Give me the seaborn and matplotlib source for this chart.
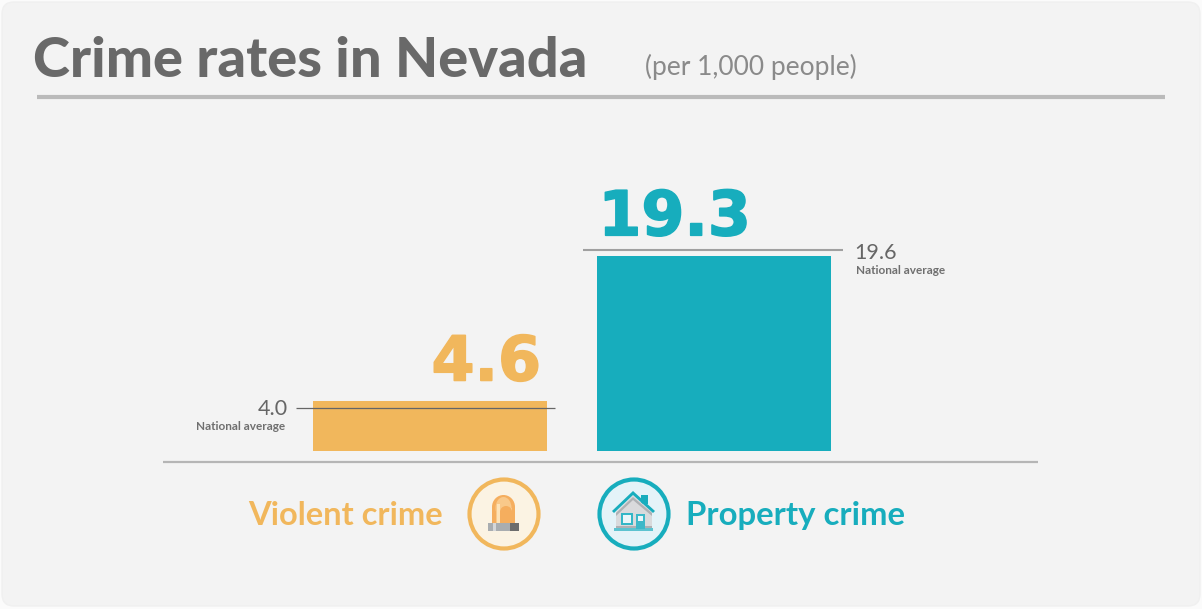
import matplotlib
matplotlib.use("Agg")
import matplotlib.pyplot as plt
import matplotlib.patheffects as pe
from matplotlib.patches import Circle, FancyBboxPatch, Polygon, Rectangle, Ellipse
import seaborn as sns
import pandas as pd

# Data
categories = ["Violent crime", "Property crime"]
printed_values = ["4.6", "19.3"]
printed_averages = ["4.0", "19.6"]
# Heights as measured in the picture: this infographic's marks are not exactly to scale
drawn_heights = [4.95, 19.3]
drawn_averages = [4.25, 19.9]
title = "Crime rates in Nevada"
subtitle = "(per 1,000 people)"
average_label = "National average"

ORANGE = "#f1b75c"
TEAL = "#17adbd"
DARK = "#696969"
W, H = 1202, 609

sns.set_theme(style="white")
plt.rcParams["font.family"] = ["Lato", "DejaVu Sans"]

fig = plt.figure(figsize=(W / 100, H / 100), dpi=100, facecolor="#fbfbfb")

# Overlay in pixel coordinates for the card furniture
bg = fig.add_axes([0, 0, 1, 1], zorder=0)
bg.set_xlim(0, W)
bg.set_ylim(H, 0)
bg.axis("off")
bg.add_patch(FancyBboxPatch((2, 2), W - 4, H - 5, boxstyle="round,pad=0,rounding_size=12",
                            fc="#f3f3f3", ec="#f0f0f0", lw=1))
bg.text(33, 77, title, fontsize=40.3, fontweight="black", color=DARK, va="baseline", ha="left")
bg.text(645, 74.5, subtitle, fontsize=19, color="#8a8a8a", va="baseline", ha="left")
bg.plot([37, 1165], [97, 97], color="#bababa", lw=3, solid_capstyle="butt")
bg.plot([163, 1038], [461.5, 461.5], color="#b5b5b5", lw=1.6, solid_capstyle="butt")
bg.text(442.5, 525, categories[0], fontsize=23.5, fontweight="bold", color=ORANGE, ha="right", va="baseline")
bg.text(686, 525, categories[1], fontsize=23.7, fontweight="bold", color=TEAL, ha="left", va="baseline")

# Beacon icon
bg.add_patch(Circle((504, 514), 34.5, fc="#fbf3e3", ec=ORANGE, lw=3))
bg.add_patch(Rectangle((492, 507), 23, 16, fc="#f5ae5e", ec="none"))
bg.add_patch(Ellipse((503.5, 507), 23, 24, fc="#f5ae5e", ec="none"))
bg.add_patch(Ellipse((503.5, 508), 16, 22, fc="#f9c98a", ec="none"))
bg.add_patch(Rectangle((495.5, 508), 16, 15, fc="#f9c98a", ec="none"))
bg.add_patch(Rectangle((497, 504), 3, 19, fc="#fde3b8", ec="none"))
bg.add_patch(Circle((506, 512), 6, fc="#f5ae5e", ec="none"))
bg.add_patch(Rectangle((500, 512), 12, 11, fc="#f5ae5e", ec="none"))
bg.add_patch(Rectangle((488, 523), 31, 8, fc="#a9adb0", ec="none"))
bg.add_patch(Rectangle((493, 523), 3, 8, fc="#d5d7d9", ec="none"))
bg.add_patch(Rectangle((510, 523), 9, 8, fc="#6d6d6d", ec="none"))

# House icon
bg.add_patch(Circle((634, 514), 34.5, fc="#e4f3f8", ec=TEAL, lw=3))
bg.add_patch(Rectangle((641, 495), 7, 9, fc=TEAL, ec="none"))
bg.add_patch(Polygon([(616, 512), (633, 495), (652, 512), (652, 528), (616, 528)], fc="#d9dadc", ec="none"))
bg.add_patch(Polygon([(616, 513), (633, 497), (652, 513), (652, 516), (633, 500), (616, 516)], fc="#aeb1b4", ec="none"))
bg.add_patch(Polygon([(612, 511), (633, 491), (655, 511), (653, 513), (633, 495), (614, 513)], fc=TEAL, ec="none"))
bg.add_patch(Rectangle((616, 526), 36, 2, fc="#aeb1b4", ec="none"))
bg.add_patch(Rectangle((614, 528), 39, 3, fc="#5cc3d0", ec="none"))
bg.add_patch(Rectangle((622, 514), 10, 10, fc="#eaf6f9", ec="#2fb6c6", lw=1.4))
bg.add_patch(Rectangle((636, 514), 9, 15, fc="#3db8c8", ec="none"))
bg.add_patch(Rectangle((638, 516), 5, 5, fc="#eaf6f9", ec="none"))

# Bars
ax = fig.add_axes([288 / W, 1 - 451 / H, 568 / W, 300 / H], zorder=1)
ax.patch.set_alpha(0)
df = pd.DataFrame({"category": categories, "value": drawn_heights})
sns.barplot(data=df, x="category", y="value", hue="category", palette=[ORANGE, TEAL],
            dodge=False, legend=False, width=0.826, saturation=1, linewidth=0, ax=ax)
ax.set_xlim(-0.5, 1.5)
ax.set_ylim(0, 300 / 10.08)
ax.axis("off")

# National average rules
ax.hlines(drawn_averages[0], -0.472, 0.44, color="#666666", lw=0.9)
ax.hlines(drawn_averages[1], 0.539, 1.454, color="#a0a0a0", lw=1.5)

# Value labels
big = ["DejaVu Sans"]
ax.text(0.391, 7.0, printed_values[0], fontsize=44.5, fontweight="bold", family=big, color=ORANGE,
        ha="right", va="baseline", clip_on=False,
        path_effects=[pe.withStroke(linewidth=1.2, foreground=ORANGE)])
ax.text(0.593, 21.4, printed_values[1], fontsize=44.5, fontweight="bold", family=big, color=TEAL,
        ha="left", va="baseline", clip_on=False,
        path_effects=[pe.withStroke(linewidth=1.2, foreground=TEAL)])

# Average labels
ax.text(-0.5, 3.57, printed_averages[0], fontsize=15.5, color="#666666", ha="right", va="baseline", clip_on=False)
ax.text(-0.511, 2.07, average_label, fontsize=8.5, fontweight="bold", color="#6f6f6f", ha="right", va="baseline", clip_on=False)
ax.text(1.493, 19.05, printed_averages[1], fontsize=15.5, color="#666666", ha="left", va="baseline", clip_on=False)
ax.text(1.5, 17.55, average_label, fontsize=8.5, fontweight="bold", color="#6f6f6f", ha="left", va="baseline", clip_on=False)

fig.savefig("out.png", dpi=100, facecolor=fig.get_facecolor())
